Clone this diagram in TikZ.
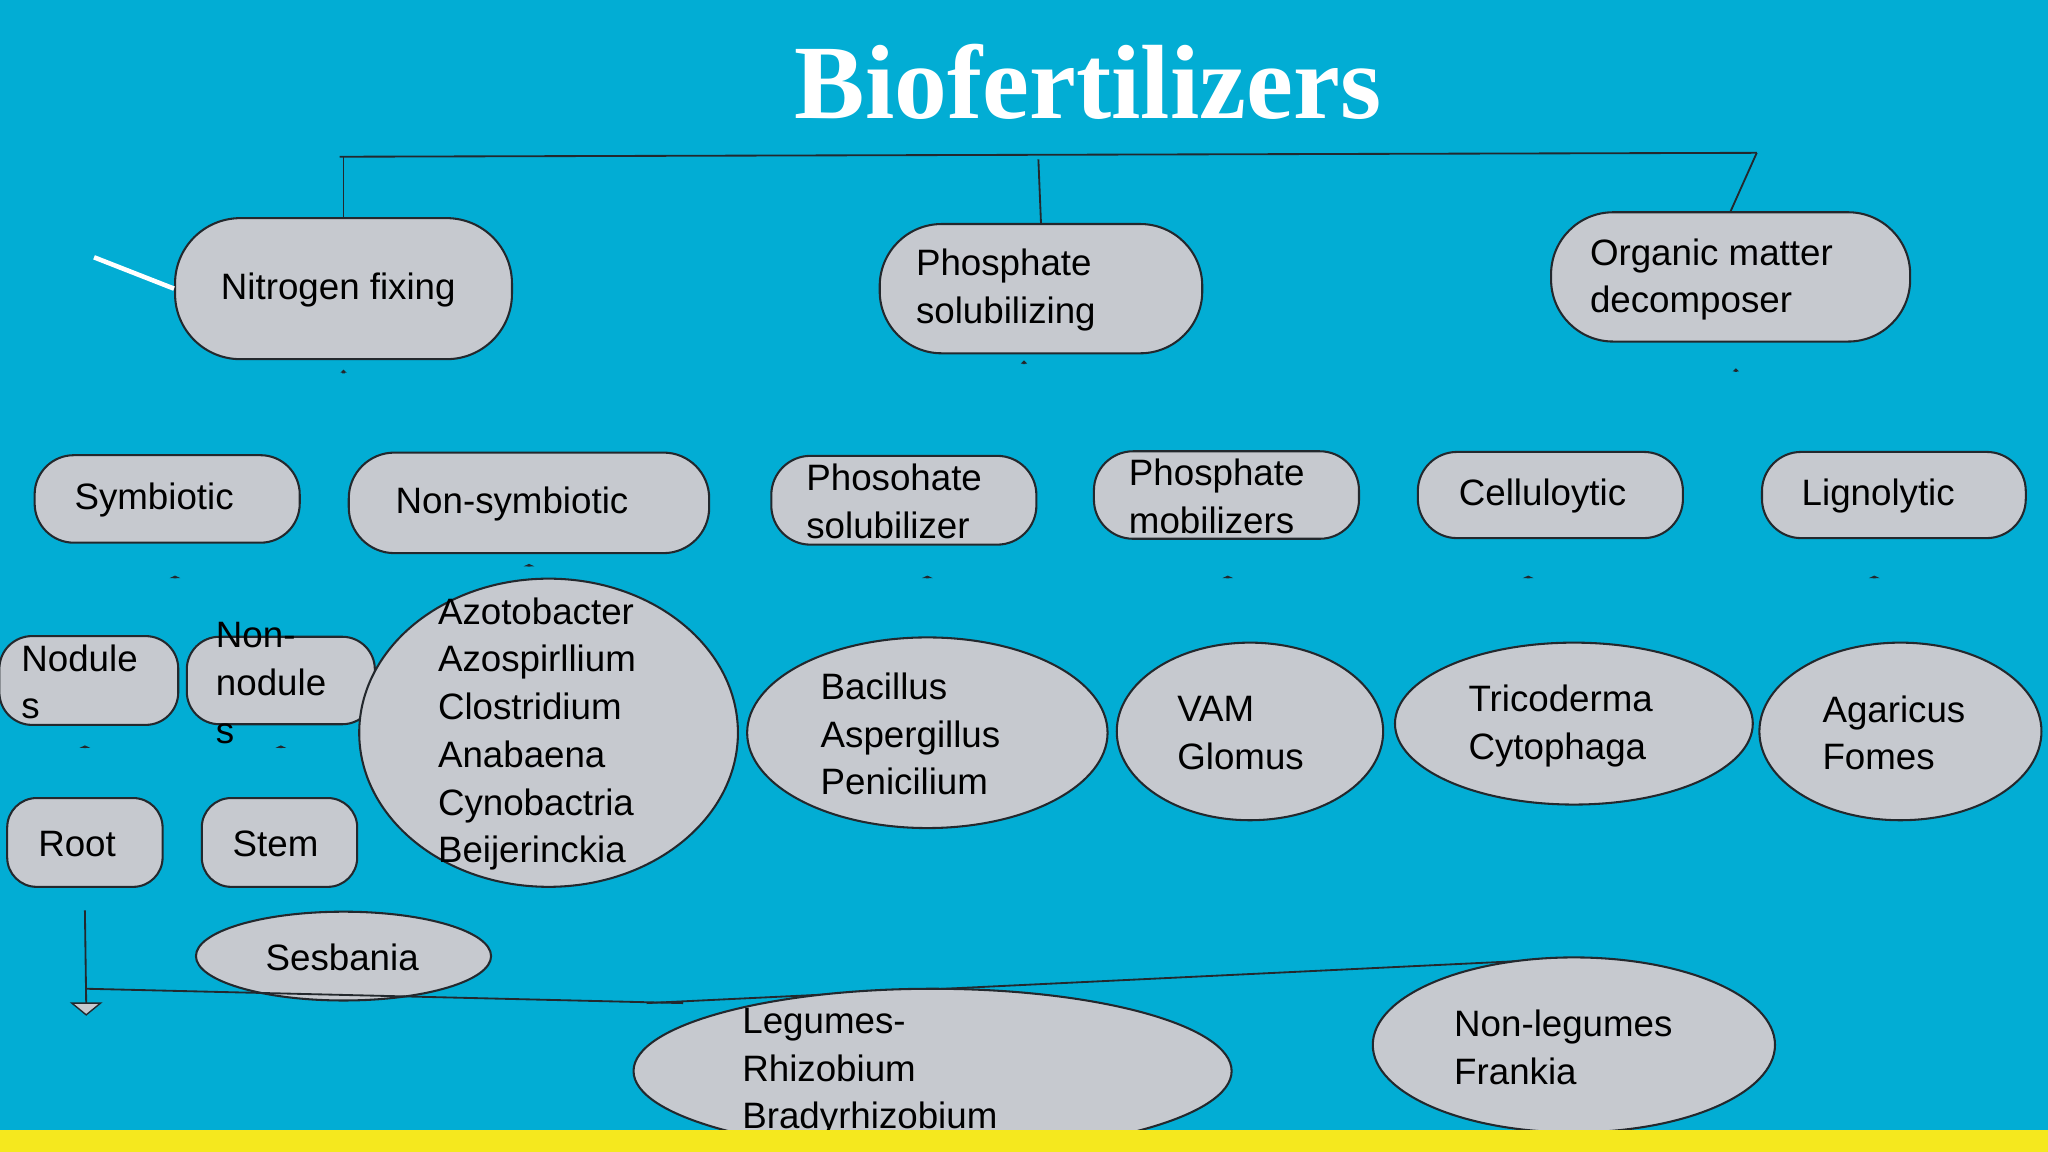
\documentclass[tikz,border=0pt]{standalone}
\usepackage{fontspec}
\setmainfont{Liberation Sans}
\newfontfamily\titlefont{Liberation Serif}
\usetikzlibrary{shapes.geometric}
\definecolor{bg}{RGB}{2,173,212}
\definecolor{band}{RGB}{245,232,30}
\definecolor{boxfill}{RGB}{198,201,207}
\definecolor{edge}{RGB}{35,40,45}
\tikzset{
  box/.style={draw=edge,fill=boxfill,line width=0.9pt,inner sep=0pt},
  ell/.style={ellipse,draw=edge,fill=boxfill,line width=0.9pt,inner sep=0pt},
  txt/.style={font=\fontsize{16}{20.8}\selectfont,align=left,inner sep=0pt,text=black},
  conn/.style={draw=edge,line width=0.8pt},
  bigarr/.pic={\draw[box] (-0.24,0)--(0.24,0)--(0.24,-0.44)--(0.5,-0.44)--(0,-0.92)--(-0.5,-0.44)--(-0.24,-0.44)--cycle;},
  smallarr/.pic={\draw[box] (-0.22,0)--(0.22,0)--(0.22,-0.16)--(0.6,-0.16)--(0,-0.44)--(-0.6,-0.16)--(-0.22,-0.16)--cycle;}
}
\begin{document}
\begin{tikzpicture}[x=0.02cm,y=-0.02cm]
\fill[bg] (0,0) rectangle (1568,882);
\fill[band] (0,865) rectangle (1568,882);
\useasboundingbox (0,0) rectangle (1568,882);
\node[text=white,font=\titlefont\bfseries\fontsize{46}{50}\selectfont] (title) at (833,63) {Biofertilizers};
% top boxes
\node[box,rounded corners=1cm,minimum width=5.16cm,minimum height=2.16cm] (nf) at (263,221) {};
\node[txt] at (259,222) {Nitrogen fixing};
\node[box,rounded corners=0.95cm,minimum width=4.94cm,minimum height=1.98cm] (ps) at (797,221) {};
\node[txt,anchor=west] at (701,222) {Phosphate\\solubilizing};
\node[box,rounded corners=0.95cm,minimum width=5.5cm,minimum height=1.98cm] (om) at (1325,212) {};
\node[txt,anchor=west] at (1217,214) {Organic matter\\decomposer};
% tree lines
\coordinate (tl) at (260,120);
\coordinate (tr) at (1345,117);
\coordinate (tm) at (795,122);
\draw[conn] (tl)--(tr);
\draw[conn] (263,120)--(nf.north);
\draw[conn] (tm)--(ps.north);
\draw[conn] (tr)--(om.north);
\draw[white,line width=2pt] (72,197)--(nf.west);
% big arrows
\pic at (263,285) {bigarr};
\pic at (784,278) {bigarr};
\pic at (1329,284) {bigarr};
% second row
\node[box,rounded corners=0.6cm,minimum width=4.06cm,minimum height=1.34cm] (sym) at (128,382) {};
\node[txt] at (118,383) {Symbiotic};
\node[box,rounded corners=0.7cm,minimum width=5.52cm,minimum height=1.54cm] (nsym) at (405,385) {};
\node[txt] at (392,386) {Non-symbiotic};
\node[box,rounded corners=0.6cm,minimum width=4.06cm,minimum height=1.36cm] (psol) at (692,383) {};
\node[txt,anchor=west] at (617,384) {Phosohate\\solubilizer};
\node[box,rounded corners=0.6cm,minimum width=4.06cm,minimum height=1.34cm] (pmob) at (939,379) {};
\node[txt,anchor=west] at (864,380) {Phosphate\\mobilizers};
\node[box,rounded corners=0.6cm,minimum width=4.06cm,minimum height=1.32cm] (cell) at (1187,379) {};
\node[txt] at (1181,380) {Celluloytic};
\node[box,rounded corners=0.6cm,minimum width=4.04cm,minimum height=1.32cm] (lig) at (1450,379) {};
\node[txt] at (1438,380) {Lignolytic};
% small arrows
\pic at (134,442) {smallarr};
\pic at (405,433) {smallarr};
\pic at (710,442) {smallarr};
\pic at (940,442) {smallarr};
\pic at (1170,442) {smallarr};
\pic at (1435,442) {smallarr};
\pic at (65,572) {smallarr};
\pic at (215,572) {smallarr};
\pic at (246,678) {smallarr};
% third row
\node[box,rounded corners=0.5cm,minimum width=2.74cm,minimum height=1.36cm] (nod) at (68,521) {};
\node[txt,anchor=west] at (16,522) {Nodule\\s};
\node[box,rounded corners=0.5cm,minimum width=2.88cm,minimum height=1.34cm] (nnod) at (215,521) {};
\node[txt,anchor=west] at (165,523) {Non-\\nodule\\s};
\node[box,rounded corners=0.45cm,minimum width=2.38cm,minimum height=1.36cm] (root) at (65,645) {};
\node[txt] at (59,646) {Root};
\node[box,rounded corners=0.45cm,minimum width=2.38cm,minimum height=1.36cm] (stem) at (214,645) {};
\node[txt] at (211,646) {Stem};
% ellipses
\node[ell,minimum width=5.8cm,minimum height=4.72cm] (azo) at (420,561) {};
\node[txt,anchor=west] at (335,562) {Azotobacter\\Azospirllium\\Clostridium\\Anabaena\\Cynobactria\\Beijerinckia};
\node[ell,minimum width=5.52cm,minimum height=2.92cm] (bac) at (710,561) {};
\node[txt,anchor=west] at (628,562) {Bacillus\\Aspergillus\\Penicilium};
\node[ell,minimum width=4.08cm,minimum height=2.72cm] (vam) at (957,560) {};
\node[txt,anchor=west] at (901,561) {VAM\\Glomus};
\node[ell,minimum width=5.48cm,minimum height=2.48cm] (tri) at (1205,554) {};
\node[txt,anchor=west] at (1124,556) {Tricoderma\\Cytophaga};
\node[ell,minimum width=4.32cm,minimum height=2.72cm] (aga) at (1455,560) {};
\node[txt,anchor=west] at (1395,561) {Agaricus\\Fomes};
\node[ell,minimum width=4.52cm,minimum height=1.36cm] (ses) at (263,732) {};
\node[txt] at (262,733) {Sesbania};
% bottom lines
\coordinate (rb) at (65,697);
\coordinate (ra) at (66,768);
\coordinate (j1) at (66,757);
\coordinate (j2) at (523,768);
\coordinate (j3) at (495,768);
\coordinate (j4) at (1180,735);
\draw[conn] (rb)--(ra);
\draw[box,line width=0.6pt] (55,768)--(77,768)--(66,777)--cycle;
\draw[conn] (j1)--(j2);
\draw[conn] (j3)--(j4);
\node[ell,minimum width=9.16cm,minimum height=2.52cm] (leg) at (714,820) {};
\node[txt,anchor=west] at (568,821) {Legumes-\\Rhizobium\\Bradyrhizobium};
\node[ell,minimum width=6.16cm,minimum height=2.68cm] (nleg) at (1205,800) {};
\node[txt,anchor=west] at (1113,802) {Non-legumes\\Frankia};
\fill[band] (0,865) rectangle (1568,882);
\end{tikzpicture}
\end{document}
